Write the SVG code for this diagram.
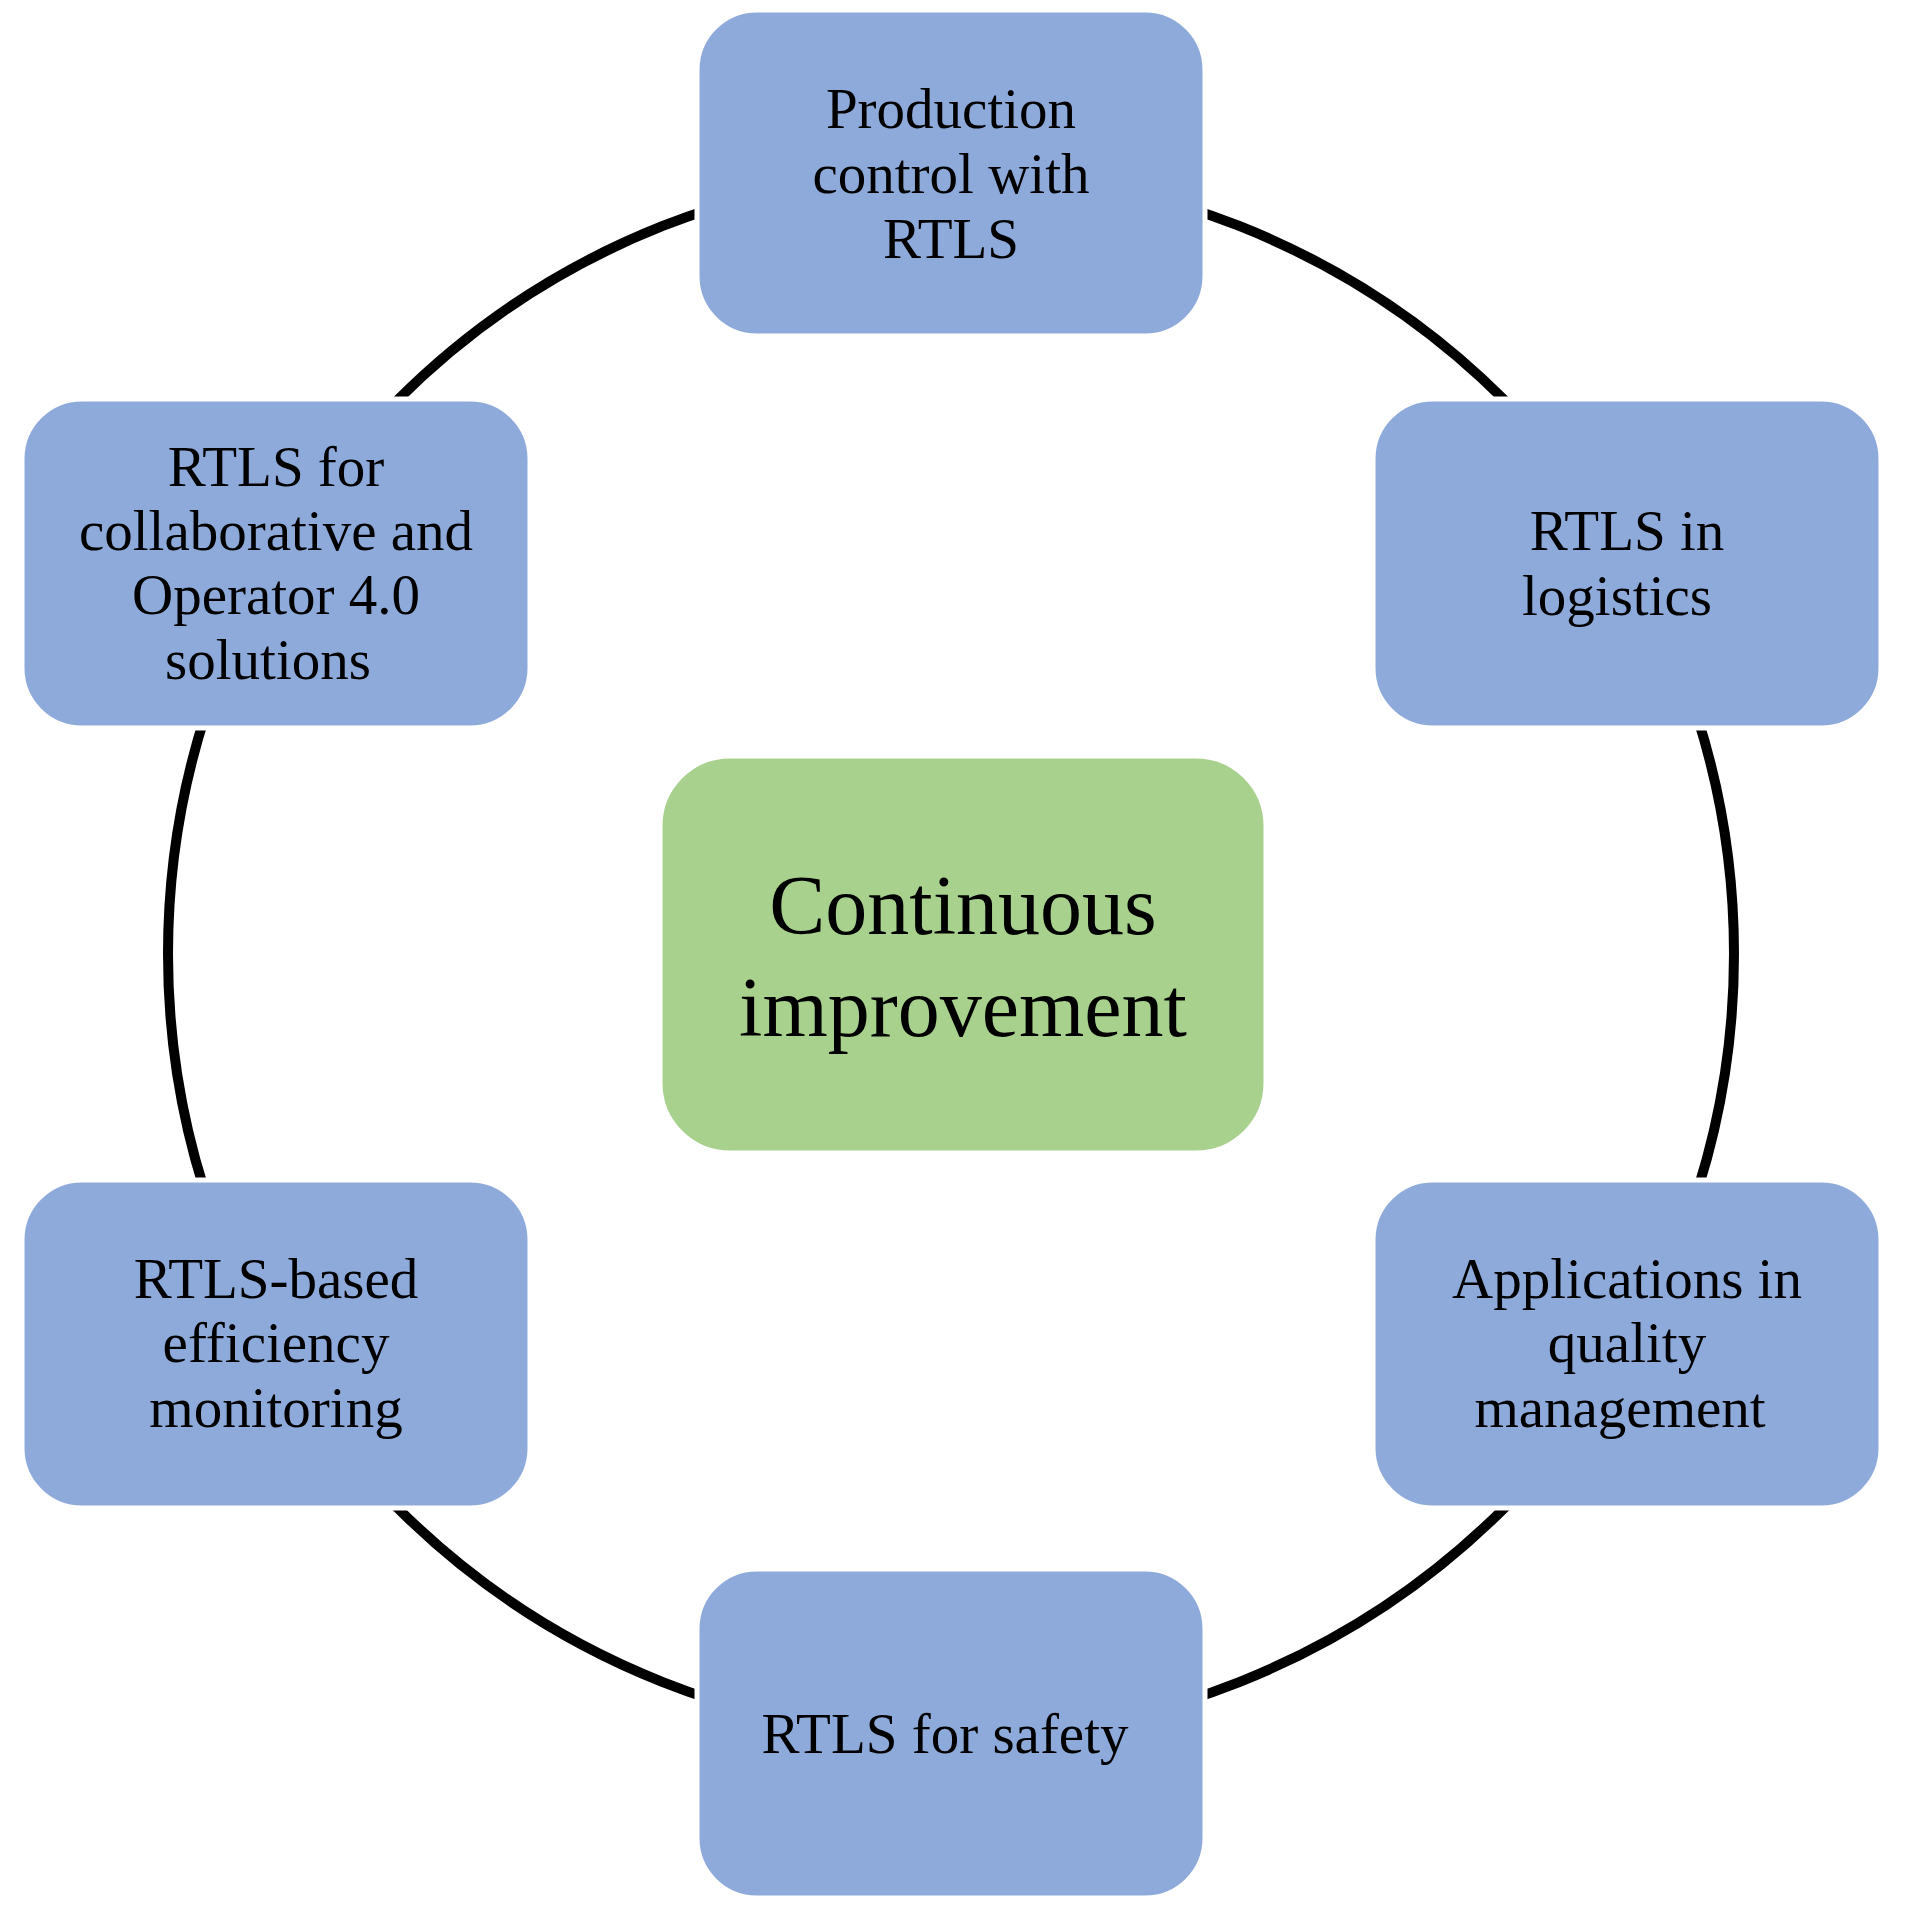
<svg xmlns="http://www.w3.org/2000/svg" width="1908" height="1921" viewBox="0 0 1908 1921">
<style>
.b{fill:#8eaadb;stroke:#fff;stroke-width:5}
.c{fill:#a9d18e;stroke:#fff;stroke-width:5}
text{font-family:"Liberation Serif","Times New Roman",serif;fill:#000;text-anchor:middle}
.t{font-size:57px}
.m{font-size:84px}
</style>
<rect width="1908" height="1921" fill="#fff"/>
<g id="connectors"><circle cx="951" cy="954" r="783" fill="none" stroke="#000" stroke-width="10"/></g>
<g id="center"><rect class="c" x="660" y="756" width="606" height="397" rx="70"/><text class="m" x="963" y="934">Continuous</text><text class="m" x="963" y="1036">improvement</text></g>
<g id="n1"><rect class="b" x="697" y="10" width="508" height="326" rx="60"/><text class="t" x="951" y="128">Production</text><text class="t" x="951" y="193">control with</text><text class="t" x="951" y="258">RTLS</text></g>
<g id="n2"><rect class="b" x="1373" y="399" width="508" height="329" rx="60"/><text class="t" x="1627" y="550">RTLS in</text><text class="t" x="1617" y="615">logistics</text></g>
<g id="n3"><rect class="b" x="1373" y="1180" width="508" height="328" rx="60"/><text class="t" x="1627" y="1298">Applications in</text><text class="t" x="1627" y="1362">quality</text><text class="t" x="1620" y="1427">management</text></g>
<g id="n4"><rect class="b" x="697" y="1569" width="508" height="329" rx="60"/><text class="t" x="945" y="1753">RTLS for safety</text></g>
<g id="n5"><rect class="b" x="22" y="1180" width="508" height="328" rx="60"/><text class="t" x="276" y="1298">RTLS-based</text><text class="t" x="276" y="1362">efficiency</text><text class="t" x="276" y="1427">monitoring</text></g>
<g id="n6"><rect class="b" x="22" y="399" width="508" height="329" rx="60"/><text class="t" x="276" y="486">RTLS for</text><text class="t" x="276" y="550">collaborative and</text><text class="t" x="276" y="614">Operator 4.0</text><text class="t" x="268" y="679">solutions</text></g>
</svg>
